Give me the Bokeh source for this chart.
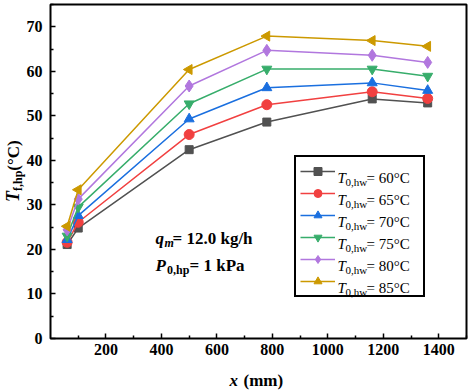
import math
from bokeh.plotting import figure
from bokeh.layouts import row
from bokeh.models import (Range1d, FixedTicker, Legend, LegendItem, Label,
                          BoxAnnotation, Div)
from bokeh.embed import file_html
from bokeh.resources import INLINE

# ---- data ----
x_mm = [60, 100, 500, 780, 1160, 1360]
t60 = [21.1, 24.8, 42.4, 48.6, 53.8, 52.9]
t65 = [21.6, 26.1, 45.8, 52.5, 55.4, 53.9]
t70 = [22.2, 27.6, 49.3, 56.3, 57.4, 55.7]
t75 = [23.0, 29.5, 52.7, 60.5, 60.5, 58.9]
t80 = [24.4, 31.3, 56.7, 64.7, 63.6, 62.0]
t85 = [25.2, 33.4, 60.4, 67.9, 66.9, 65.6]
series_vals = [t60, t65, t70, t75, t80, t85]
series_temps = ["60", "65", "70", "75", "80", "85"]
x_ticks = [200, 400, 600, 800, 1000, 1200, 1400]
x_minor = [100, 300, 500, 700, 900, 1100, 1300, 1500]
y_ticks = [0, 10, 20, 30, 40, 50, 60, 70]
y_minor = [5, 15, 25, 35, 45, 55, 65, 75]
X_MIN, X_MAX = 0, 1500
Y_MIN, Y_MAX = 0, 75

colors = ["#515151", "#F14040", "#1A6FDF", "#37AD6B", "#B177DE", "#CC9900"]
markers = ["square", "circle", "triangle", "inverted_triangle", "diamond", "triangle"]
angles = [0, 0, 0, 0, 0, math.pi / 2]
sizes = [8, 10, 10, 10, 12, 10]

SERIF = "Liberation Serif"

# ---- page geometry (pixels from the top-left of the layout) ----
ORG_X, ORG_Y = 26, 0          # top-left of the plot canvas
W, H = 446, 390               # plot canvas size
BOX_L, BOX_R, BOX_T, BOX_B = 50, 466, 4, 338   # plotting box

cl, cr = BOX_L - ORG_X, BOX_R - ORG_X
ct, cb = BOX_T - ORG_Y, BOX_B - ORG_Y
sx = (cr - cl) / (X_MAX - X_MIN)
sy = (cb - ct) / (Y_MAX - Y_MIN)
xr = Range1d(X_MIN - cl / sx, X_MAX + (W - cr) / sx)
yr = Range1d(Y_MIN - (H - cb) / sy, Y_MAX + ct / sy)

p = figure(width=W, height=H, output_backend="svg", toolbar_location=None,
           x_range=xr, y_range=yr, min_border=0)
p.grid.visible = False
p.outline_line_color = None
p.background_fill_color = "white"
p.border_fill_color = "white"

for ax in (p.xaxis[0], p.yaxis[0]):
    ax.fixed_location = 0
    ax.axis_line_color = None
    ax.major_tick_in = 5
    ax.major_tick_out = 0
    ax.minor_tick_in = 3
    ax.minor_tick_out = 0
    ax.major_tick_line_width = 1.5
    ax.minor_tick_line_width = 1.5
    ax.major_label_text_font = SERIF
    ax.major_label_text_font_style = "bold"
    ax.major_label_text_font_size = "16px"
    ax.major_label_text_color = "black"
p.xaxis[0].ticker = FixedTicker(ticks=x_ticks, minor_ticks=x_minor)
p.yaxis[0].ticker = FixedTicker(ticks=y_ticks, minor_ticks=y_minor)
p.xaxis[0].major_label_standoff = 5
p.yaxis[0].major_label_standoff = 8

# plotting box border
p.add_layout(BoxAnnotation(left=X_MIN, right=X_MAX, bottom=Y_MIN, top=Y_MAX,
                           fill_alpha=0, line_color="black", line_width=2,
                           line_alpha=1, level="overlay"))

items = []
for vals, c, m, a, s in zip(series_vals, colors, markers, angles, sizes):
    r1 = p.line(x_mm, vals, line_color=c, line_width=1.5)
    r2 = p.scatter(x_mm, vals, marker=m, angle=a, size=s, fill_color=c, line_color=c)
    items.append(LegendItem(label=" ", renderers=[r1, r2]))

LEG_L, LEG_B, LEG_H = 294, 297, 138
legend = Legend(items=items, location=(LEG_L - ORG_X, ORG_Y + H - LEG_B),
                border_line_color="black", border_line_width=2, border_line_alpha=1,
                padding=4, spacing=2, glyph_height=20, glyph_width=35,
                label_height=20, label_width=80, label_standoff=4, margin=0,
                background_fill_alpha=0, label_text_font_size="8px")
p.add_layout(legend, "center")


def lab(text, x, y, size, style="normal"):
    # x, y: layout pixels of the text's left end on its baseline
    p.add_layout(Label(x=x - ORG_X, y=ORG_Y + H - y, x_units="screen", y_units="screen",
                       text=text, text_font=SERIF, text_font_size=size,
                       text_font_style=style, text_color="black",
                       text_baseline="alphabetic", text_align="left", level="overlay"))


# legend labels
leg_top = LEG_B - LEG_H
for i, tt in enumerate(series_temps):
    c = leg_top + 14 + 22 * i
    lab("T", 337, c + 4.5, "15px", "italic")
    lab("0,hw", 345, c + 8, "11px")
    lab("= " + tt + "\u00b0C", 366, c + 4.5, "15px")

# annotations
lab("q", 155, 238, "17px", "bold italic")
lab("m", 164, 242, "12px", "bold italic")
lab("= 12.0 kg/h", 172, 238, "17px", "bold")
lab("P", 155, 265, "17px", "bold italic")
lab("0,hp", 166.5, 269, "12px", "bold")
lab("= 1 kPa", 189, 265, "17px", "bold")

# x axis title
lab("x", 229, 380, "17px", "bold italic")
lab("(mm)", 243, 380, "17px", "bold")

# y axis title: rotated rich text in a narrow HTML strip left of the canvas
DIV_W = ORG_X
ylab_html = (
    f'<div style="position:relative;width:{DIV_W}px;height:{H}px;overflow:visible;">'
    '<div style="position:absolute;left:0;top:0;transform-origin:0 0;'
    'transform:translate(4px,202px) rotate(-90deg);white-space:nowrap;'
    "font-family:'Liberation Serif';font-weight:bold;font-size:18px;"
    'line-height:18px;color:black;">'
    '<i>T</i><span style="font-size:12px;position:relative;top:3px;">f,hp</span>'
    '<span style="font-size:17px;">(\u00b0C)</span></div></div>'
)
ydiv = Div(text=ylab_html, width=DIV_W, height=H, margin=0)

layout = row(ydiv, p, spacing=0)
open("out.html", "w").write(file_html(layout, INLINE))
